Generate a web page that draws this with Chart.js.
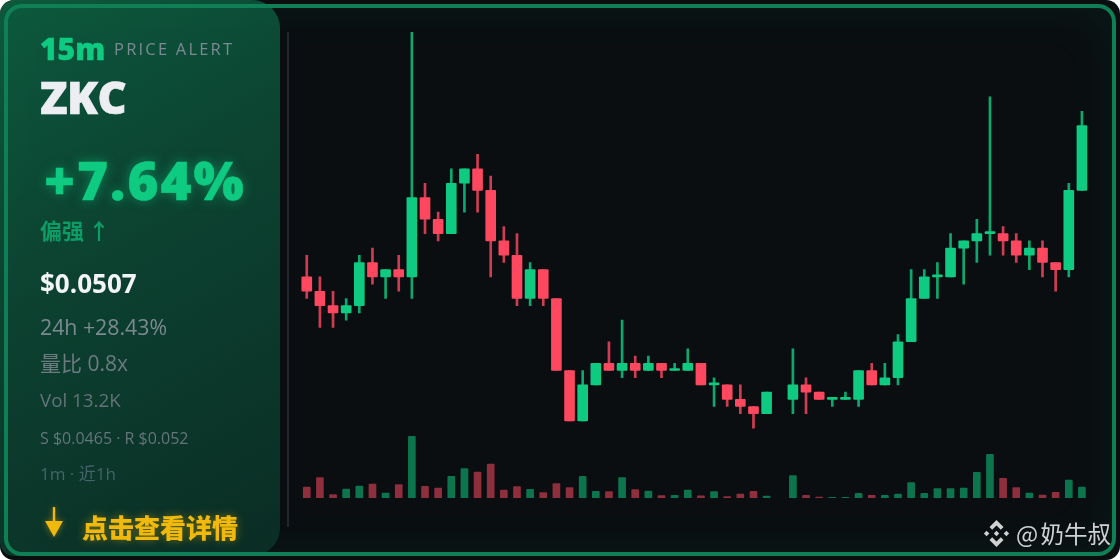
<!DOCTYPE html>
<html lang="zh">
<head>
<meta charset="utf-8">
<title>ZKC 15m</title>
<script src="https://cdn.jsdelivr.net/npm/chart.js@4"></script>
<style>
    html, body { margin: 0; padding: 0; width: 1120px; height: 560px; background: #fff; overflow: hidden; }
    #card { position: relative; width: 1120px; height: 560px; border-radius: 14px; overflow: hidden; background: #0a0e11; font-family: "Open Sans", "Noto Sans CJK SC", sans-serif; }
    #glow { position: absolute; inset: 8px; border-radius: 14px; box-shadow: inset 0 0 50px rgba(14, 203, 129, .07); }
    #chart { position: absolute; left: 0; top: 0; }
    #sep { position: absolute; left: 287px; top: 32px; width: 2px; height: 495px; background: #23282e; }
    #panel { position: absolute; left: 0; top: 0; width: 280px; height: 556px; border-radius: 14px 28px 28px 14px; background: linear-gradient(150deg, rgba(14, 110, 74, .78) 0%, rgba(13, 74, 54, .85) 45%, rgba(11, 50, 40, .85) 100%); }
    #frame { position: absolute; left: 4px; top: 4px; right: 4px; bottom: 4px; border: 4px solid #0f8056; border-radius: 18px; }
    .t { position: absolute; left: 40px; white-space: nowrap; line-height: 1; }
    #tf { top: 28px; font: 800 30px "Open Sans", sans-serif; color: #0ecb81; -webkit-text-stroke: .5px #0ecb81; }
    #alert { left: 114px; top: 41px; font-size: 16.5px; letter-spacing: 2.2px; color: #7c8a92; }
    #sym { top: 66px; font: 800 45px "Open Sans", sans-serif; letter-spacing: -.5px; color: #eceef2; -webkit-text-stroke: .7px #eceef2; }
    #pct { left: 44px; top: 143px; font: 800 53px "Open Sans", sans-serif; letter-spacing: 2px; color: #0ecb81; -webkit-text-stroke: .5px #0ecb81; text-shadow: 0 0 12px rgba(14, 203, 129, .5); }
    #bias { top: 213px; font: 700 22px "Noto Sans CJK SC", sans-serif; color: #0c9c65; word-spacing: -1px; }
    #price { top: 265px; font: 700 26px "Open Sans", sans-serif; color: #f2f4f6; }
    #d24 { top: 316px; font-size: 21.3px; color: #7c8a92; }
    #ratio { top: 353px; font-size: 21px; color: #6d7b82; }
    #vol { top: 391px; font-size: 18.8px; color: #64737b; }
    #sr { top: 430px; font-size: 16px; color: #64757c; }
    #age { top: 465px; font-size: 17px; color: #46636a; }
    #cta { left: 82px; top: 508px; font: 900 26px "Noto Sans CJK SC", sans-serif; color: #f0b90b; text-shadow: 0 0 8px rgba(240, 185, 11, .45); }
    #arrow { position: absolute; left: 44px; top: 505px; filter: drop-shadow(0 0 3px rgba(240, 185, 11, .5)); }
    #mark { position: absolute; left: 983px; top: 520px; }
    #who { position: absolute; left: 1016px; top: 519px; font: 400 23.5px "Noto Sans CJK SC", sans-serif; line-height: 28px; color: #d0d2d2; white-space: nowrap; word-spacing: -3px; }
</style>
</head>
<body>
<div id="card">
    <div id="glow"></div>
    <canvas id="chart" width="1120" height="560"></canvas>
    <div id="sep"></div>
    <div id="panel"></div>
    <div id="frame"></div>
    <div class="t" id="tf">15m</div>
    <div class="t" id="alert">PRICE ALERT</div>
    <div class="t" id="sym">ZKC</div>
    <div class="t" id="pct">+7.64%</div>
    <div class="t" id="bias">偏强 ↑</div>
    <div class="t" id="price">$0.0507</div>
    <div class="t" id="d24">24h +28.43%</div>
    <div class="t" id="ratio">量比 0.8x</div>
    <div class="t" id="vol">Vol 13.2K</div>
    <div class="t" id="sr">S $0.0465 · R $0.052</div>
    <div class="t" id="age">1m · 近1h</div>
    <svg id="arrow" width="20" height="34" viewBox="0 0 20 34">
        <rect x="8.8" y="2" width="2.4" height="16" fill="#f0b90b"/>
        <path d="M1 16 L19 16 L10 32 Z" fill="#f0b90b"/>
    </svg>
    <div class="t" id="cta">点击查看详情</div>
    <svg id="mark" width="27" height="27" viewBox="0 0 27 27" fill="#d0d2d2">
        <path d="M13.5 0 L20.5 7 L17.8 9.7 L13.5 5.4 L9.2 9.7 L6.5 7 Z"/>
        <path d="M13.5 27 L20.5 20 L17.8 17.3 L13.5 21.6 L9.2 17.3 L6.5 20 Z"/>
        <path d="M3.6 10.8 L6.3 13.5 L3.6 16.2 L0.9 13.5 Z"/>
        <path d="M23.4 10.8 L26.1 13.5 L23.4 16.2 L20.7 13.5 Z"/>
        <path d="M13.5 10.8 L16.2 13.5 L13.5 16.2 L10.8 13.5 Z"/>
    </svg>
    <div id="who">@ 奶牛叔</div>
</div>

<script>
// 15m candles (index 36 has no candle and no volume)
const opens = [0.0486, 0.0484, 0.0482, 0.0481, 0.0482, 0.0488, 0.0486, 0.0487, 0.0486, 0.0497,
    0.0494, 0.0492, 0.0499, 0.0501, 0.0498, 0.0491, 0.0489, 0.0483, 0.0487, 0.0483,
    0.0473, 0.0466, 0.0471, 0.0474, 0.0473, 0.0474, 0.0473, 0.0474, 0.0473, 0.0473,
    0.0474, 0.0471, 0.0471, 0.0469, 0.0468, 0.0467, null, 0.0469, 0.0471, 0.0470,
    0.0469, 0.0469, 0.0469, 0.0473, 0.0471, 0.0472, 0.0477, 0.0483, 0.0486, 0.0486,
    0.0490, 0.0491, 0.0492, 0.0492, 0.0491, 0.0489, 0.0490, 0.0488, 0.0487, 0.0498];
const closes = [0.0484, 0.0482, 0.0481, 0.0482, 0.0488, 0.0486, 0.0487, 0.0486, 0.0497, 0.0494,
    0.0492, 0.0499, 0.0501, 0.0498, 0.0491, 0.0489, 0.0483, 0.0487, 0.0483, 0.0473,
    0.0466, 0.0471, 0.0474, 0.0473, 0.0474, 0.0473, 0.0474, 0.0473, 0.0473, 0.0474,
    0.0471, 0.0471, 0.0469, 0.0468, 0.0467, 0.0470, null, 0.0471, 0.0470, 0.0469,
    0.0469, 0.0469, 0.0473, 0.0471, 0.0472, 0.0477, 0.0483, 0.0486, 0.0486, 0.0490,
    0.0491, 0.0492, 0.0492, 0.0491, 0.0489, 0.0490, 0.0488, 0.0487, 0.0498, 0.0507];
const highs = [0.0489, 0.0486, 0.0484, 0.0483, 0.0489, 0.0490, 0.0487, 0.0489, 0.0520, 0.0499,
    0.0495, 0.0501, 0.0501, 0.0503, 0.0500, 0.0493, 0.0492, 0.0488, 0.0487, 0.0483,
    0.0473, 0.0473, 0.0474, 0.0477, 0.0480, 0.0475, 0.0475, 0.0474, 0.0474, 0.0476,
    0.0474, 0.0472, 0.0471, 0.0471, 0.0468, 0.0470, null, 0.0476, 0.0472, 0.0470,
    0.0469, 0.0470, 0.0473, 0.0474, 0.0474, 0.0478, 0.0487, 0.0487, 0.0488, 0.0492,
    0.0491, 0.0494, 0.0511, 0.0493, 0.0492, 0.0491, 0.0491, 0.0488, 0.0499, 0.0509];
const lows = [0.0483, 0.0479, 0.0479, 0.0480, 0.0481, 0.0485, 0.0483, 0.0484, 0.0483, 0.0492,
    0.0491, 0.0492, 0.0495, 0.0495, 0.0486, 0.0488, 0.0482, 0.0482, 0.0482, 0.0473,
    0.0466, 0.0466, 0.0471, 0.0473, 0.0472, 0.0472, 0.0473, 0.0472, 0.0473, 0.0473,
    0.0471, 0.0468, 0.0468, 0.0467, 0.0465, 0.0467, null, 0.0467, 0.0467, 0.0469,
    0.0468, 0.0469, 0.0468, 0.0471, 0.0471, 0.0471, 0.0477, 0.0483, 0.0483, 0.0486,
    0.0485, 0.0488, 0.0489, 0.0489, 0.0488, 0.0487, 0.0486, 0.0484, 0.0486, 0.0498];
// volumes in K
const volumes = [13.2, 24.4, 4, 10.8, 14.4, 16.8, 6, 16, 74, 14,
    12, 26, 35.2, 31.2, 40.8, 9.6, 13.6, 10.4, 6.4, 17.2,
    12.4, 26, 8, 7.6, 24.4, 10, 8.4, 2.8, 3.2, 9.6,
    2.6, 7.6, 1.6, 4.8, 8, 2.4, null, 26.8, 3.2, 1.2,
    0.8, 0.8, 5.6, 3.2, 3.2, 4.8, 18.4, 5.6, 11.2, 11.2,
    12, 30.8, 52.4, 23.6, 12.4, 6, 3.6, 6.8, 21.6, 13.2];
const labels = opens.map((_, i) => i);

const UP = '#0ecb81';
const DOWN = '#fd4860';
const UP_WICK = 'rgba(14, 203, 129, .82)';
const DOWN_WICK = 'rgba(253, 72, 96, .82)';
const UP_VOL = 'rgba(14, 203, 129, .55)';
const DOWN_VOL = 'rgba(253, 72, 96, .55)';

// green when the close is not below the open
function pick(i, up, down) {
    return closes[i] >= opens[i] ? up : down;
}

function range(a, b) {
    return labels.map(i => (a[i] === null ? null : [a[i], b[i]]));
}

new Chart(document.getElementById('chart'), {
    type: 'bar',
    data: {
        labels: labels,
        datasets: [
            {
                label: 'volume',
                yAxisID: 'yVol',
                data: volumes,
                barThickness: 7,
                borderRadius: 1,
                backgroundColor: labels.map(i => pick(i, UP_VOL, DOWN_VOL)),
                order: 3
            },
            {
                label: 'wick',
                yAxisID: 'yPrice',
                data: range(lows, highs),
                barThickness: 2,
                backgroundColor: labels.map(i => pick(i, UP_WICK, DOWN_WICK)),
                order: 2
            },
            {
                label: 'body',
                yAxisID: 'yPrice',
                data: range(opens, closes),
                barThickness: 10,
                minBarLength: 2,
                borderRadius: 1,
                borderSkipped: false,
                backgroundColor: labels.map(i => pick(i, UP, DOWN)),
                order: 1
            }
        ]
    },
    options: {
        responsive: false,
        animation: false,
        events: [],
        layout: { padding: { left: 300.2, right: 31.5, top: 32, bottom: 62 } },
        plugins: { legend: { display: false }, tooltip: { enabled: false } },
        datasets: { bar: { grouped: false } },
        scales: {
            x: { display: false, offset: true },
            yPrice: { display: false, min: 0.04553, max: 0.052 },
            yVol: { display: false, min: 0, max: 559 }
        }
    }
});
</script>
</body>
</html>
